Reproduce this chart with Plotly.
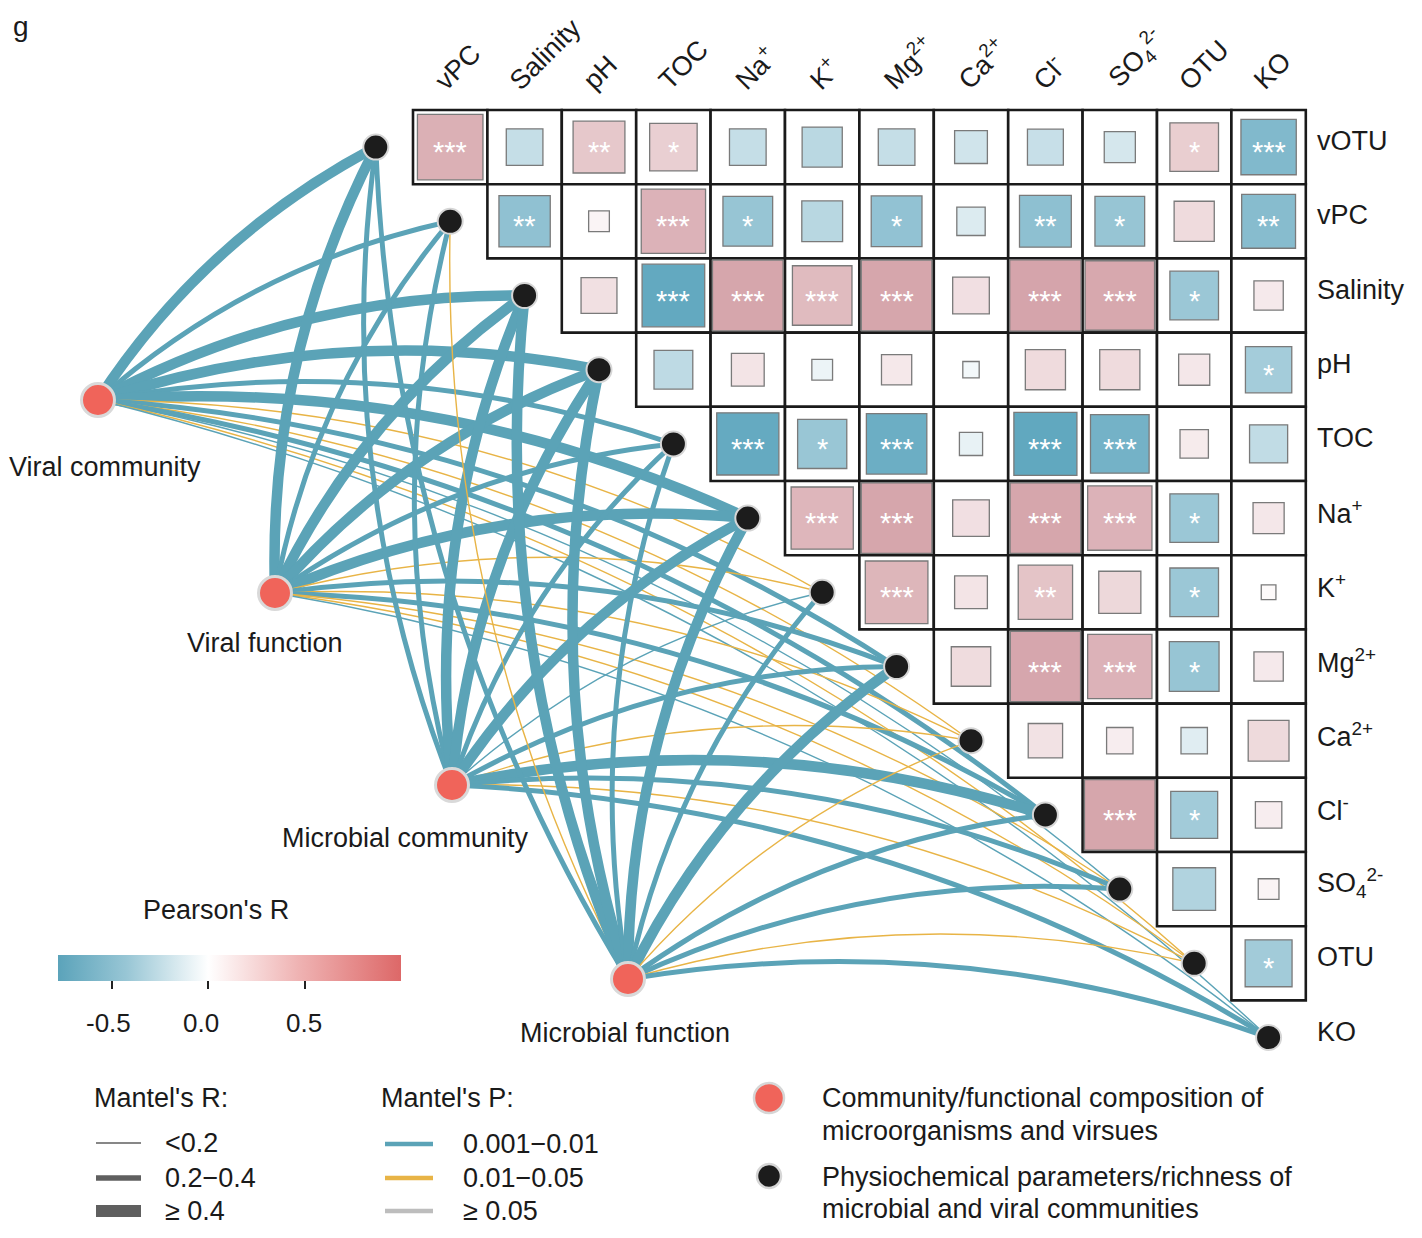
import numpy as np
import plotly.graph_objects as go

# ------------------------------------------------------------------ data
variables = ["vOTU", "vPC", "Salinity", "pH", "TOC", "Na+", "K+", "Mg2+",
             "Ca2+", "Cl-", "SO42-", "OTU", "KO"]
var_labels = ["vOTU", "vPC", "Salinity", "pH", "TOC", "Na<sup>+</sup>", "K<sup>+</sup>",
              "Mg<sup>2+</sup>", "Ca<sup>2+</sup>", "Cl<sup>-</sup>",
              "SO<sub>4</sub><sup>2-</sup>", "OTU", "KO"]

# Pearson's r, upper triangle: row i (variables[i]) against variables[i+1:]
pearson_r = [
    [0.80, -0.25, 0.50, 0.42, -0.25, -0.30, -0.25, -0.20, -0.24, -0.18, 0.44, -0.57],
    [-0.49, 0.08, 0.77, -0.46, -0.31, -0.48, -0.15, -0.50, -0.46, 0.30, -0.54],
    [0.24, -0.73, 0.93, 0.66, 0.93, 0.25, 0.95, 0.90, -0.44, 0.16],
    [-0.28, 0.20, -0.08, 0.17, -0.05, 0.30, 0.30, 0.18, -0.40],
    [-0.72, -0.45, -0.68, -0.10, -0.74, -0.64, 0.15, -0.27],
    [0.72, 0.93, 0.25, 0.93, 0.77, -0.44, 0.18],
    [0.73, 0.20, 0.55, 0.33, -0.44, 0.04],
    [0.29, 0.92, 0.77, -0.46, 0.16],
    [0.22, 0.13, -0.13, 0.31],
    [0.93, -0.41, 0.13],
    [-0.34, 0.08],
    [-0.41],
]
pearson_sig = [
    ["***", "", "**", "*", "", "", "", "", "", "", "*", "***"],
    ["**", "", "***", "*", "", "*", "", "**", "*", "", "**"],
    ["", "***", "***", "***", "***", "", "***", "***", "*", ""],
    ["", "", "", "", "", "", "", "", "*"],
    ["***", "*", "***", "", "***", "***", "", ""],
    ["***", "***", "", "***", "***", "*", ""],
    ["***", "", "**", "", "*", ""],
    ["", "***", "***", "*", ""],
    ["", "", "", ""],
    ["***", "*", ""],
    ["", ""],
    ["*"],
]

# Mantel tests: each composition matrix against every variable (order of `variables`)
mantel_sources = ["Viral community", "Viral function", "Microbial community", "Microbial function"]
mantel_r_viral_community = [0.52, 0.31, 0.47, 0.45, 0.33, 0.42, 0.12, 0.29, 0.11, 0.27, 0.16, 0.13, 0.17]
mantel_p_viral_community = [0.001, 0.002, 0.001, 0.001, 0.003, 0.001, 0.03, 0.004, 0.04, 0.005, 0.008, 0.02, 0.009]
mantel_r_viral_function = [0.46, 0.26, 0.44, 0.43, 0.30, 0.41, 0.13, 0.27, 0.10, 0.28, 0.14, 0.11, 0.18]
mantel_p_viral_function = [0.001, 0.004, 0.001, 0.001, 0.003, 0.001, 0.02, 0.005, 0.04, 0.004, 0.03, 0.03, 0.008]
mantel_r_microbial_community = [0.33, 0.28, 0.48, 0.44, 0.31, 0.46, 0.17, 0.32, 0.12, 0.47, 0.29, 0.13, 0.27]
mantel_p_microbial_community = [0.002, 0.003, 0.001, 0.001, 0.002, 0.001, 0.009, 0.002, 0.03, 0.001, 0.004, 0.02, 0.005]
mantel_r_microbial_function = [0.32, 0.12, 0.45, 0.43, 0.29, 0.44, 0.26, 0.41, 0.11, 0.30, 0.28, 0.12, 0.30]
mantel_p_microbial_function = [0.003, 0.04, 0.001, 0.001, 0.004, 0.001, 0.006, 0.001, 0.02, 0.003, 0.004, 0.03, 0.004]

mantel_r_all = [mantel_r_viral_community, mantel_r_viral_function,
                mantel_r_microbial_community, mantel_r_microbial_function]
mantel_p_all = [mantel_p_viral_community, mantel_p_viral_function,
                mantel_p_microbial_community, mantel_p_microbial_function]

# ------------------------------------------------------------------ layout / style
PAGE_W, PAGE_H = 1422, 1238
OFF = 8                       # page body margin
W, H = PAGE_W - 2 * OFF, PAGE_H - 2 * OFF
GX0, GY0 = 413.0, 110.0       # page-pixel position of grid top-left corner
CW, CH = 74.4, 74.2           # pixel size of one cell


def dx_(px):
    return (px - GX0) / CW - 0.5


def dy_(py):
    return (py - GY0) / CH - 0.5


def pxp(px):
    return (px - OFF) / W


def pyp(py):
    return 1 - (py - OFF) / H


FONT = "Liberation Sans, Arial, sans-serif"
TXT = "#1a1a1a"
TEAL = "#5BA3B7"
ORANGE = "#E8B446"
GREY = "#BDBDBD"
CURV = 0.13

# composition node placement (page pixels)
source_px = [(98, 400), (275, 593), (452, 785), (628, 979)]
source_label_px = [(105, 467), (265, 643), (405, 838), (625, 1033)]

cell_colorscale = [
    [0.0, "#56A2BB"], [0.1667, "#8EC0D1"], [0.3333, "#D0E4EB"], [0.4444, "#FFFFFF"],
    [0.5556, "#F3E4E6"], [0.7222, "#E6C8CB"], [1.0, "#D3A0A7"],
]
bar_colorscale = [[0.0, "#5BA3BA"], [0.2, "#98C6D5"], [0.438, "#FFFFFF"],
                  [0.7, "#EFB3B3"], [1.0, "#DD6868"]]

shapes = []
annotations = []

# grid cells
for i, row in enumerate(pearson_r):
    for k, _ in enumerate(row):
        j = i + k
        shapes.append(dict(type="rect", xref="x", yref="y", x0=j - 0.5, x1=j + 0.5,
                           y0=i - 0.5, y1=i + 0.5, line=dict(color="#1a1a1a", width=2.6),
                           fillcolor="white", layer="below"))


def edge_width(r):
    return 1.4 if r < 0.2 else (5.0 if r < 0.4 else 10.5)


def edge_color(p):
    return TEAL if p < 0.01 else (ORANGE if p < 0.05 else GREY)


# mantel edges (quadratic curves)
for s, (spx, spy) in enumerate(source_px):
    sx, sy = dx_(spx), dy_(spy)
    for t in range(len(variables)):
        tx, ty = t - 1, t
        ddx, ddy = tx - sx, ty - sy
        cx = (sx + tx) / 2 + CURV * ddy
        cy = (sy + ty) / 2 - CURV * ddx
        shapes.append(dict(type="path", xref="x", yref="y",
                           path=f"M {sx:.4f},{sy:.4f} Q {cx:.4f},{cy:.4f} {tx:.4f},{ty:.4f}",
                           line=dict(color=edge_color(mantel_p_all[s][t]),
                                     width=edge_width(mantel_r_all[s][t])),
                           layer="below"))

fig = go.Figure()

# correlation squares
cx_l, cy_l, cr_l, csz = [], [], [], []
for i, row in enumerate(pearson_r):
    for k, r in enumerate(row):
        cx_l.append(i + k)
        cy_l.append(i)
        cr_l.append(r)
        csz.append(CW * 0.985 * np.sqrt(abs(r)))
        star = pearson_sig[i][k]
        if star:
            annotations.append(dict(x=i + k, y=i, xref="x", yref="y", text=star,
                                    showarrow=False, xanchor="center", yanchor="middle",
                                    yshift=-5, font=dict(color="white", size=29, family=FONT)))
fig.add_trace(go.Scatter(
    x=cx_l, y=cy_l, mode="markers",
    marker=dict(symbol="square", size=csz, color=cr_l, colorscale=cell_colorscale,
                cmin=-0.8, cmax=1.0, opacity=1, line=dict(color="#7a7a7a", width=1.3),
                showscale=False),
    hoverinfo="skip", showlegend=False))

# variable nodes on the diagonal
fig.add_trace(go.Scatter(
    x=[t - 1 for t in range(len(variables))], y=list(range(len(variables))), mode="markers",
    marker=dict(size=25, color="#1c1c1c", opacity=1, line=dict(color="#d6d6d6", width=2)),
    hoverinfo="skip", showlegend=False))

# composition nodes
fig.add_trace(go.Scatter(
    x=[dx_(p[0]) for p in source_px], y=[dy_(p[1]) for p in source_px], mode="markers",
    marker=dict(size=33, color="#F0645A", opacity=1, line=dict(color="#d9d9d9", width=3)),
    hoverinfo="skip", showlegend=False))

# colour bar carrier
fig.add_trace(go.Scatter(
    x=[dx_(source_px[0][0])], y=[dy_(source_px[0][1])], mode="markers",
    marker=dict(size=0.1, color=[0], colorscale=bar_colorscale, cmin=-0.78, cmax=1.0,
                showscale=True,
                colorbar=dict(orientation="h", x=pxp(58), xanchor="left",
                              len=(401 - 58) / W, lenmode="fraction", thickness=26,
                              y=pyp(955), yanchor="top", outlinewidth=0, xpad=0, ypad=0,
                              tickvals=[-0.5, 0, 0.5], showticklabels=False,
                              ticks="outside", ticklen=8, tickwidth=2, tickcolor="#222")),
    hoverinfo="skip", showlegend=False))

# column headers
for j, lab in enumerate(var_labels[1:]):
    annotations.append(dict(x=j - 0.32, y=-0.66, xref="x", yref="y", text=lab, showarrow=False,
                            textangle=-45, xanchor="left", yanchor="bottom",
                            font=dict(size=27, family=FONT, color=TXT)))
# row labels
for i, lab in enumerate(var_labels):
    annotations.append(dict(x=11.62, y=i - 0.08, xref="x", yref="y", text=lab, showarrow=False,
                            xanchor="left", yanchor="middle",
                            font=dict(size=27, family=FONT, color=TXT)))
# composition labels
for name, (lx, ly) in zip(mantel_sources, source_label_px):
    annotations.append(dict(x=pxp(lx), y=pyp(ly), xref="paper", yref="paper", text=name,
                            showarrow=False, xanchor="center", yanchor="middle",
                            font=dict(size=27, family=FONT, color=TXT)))


def ptext(x, y, text, size=27, anchor="left"):
    annotations.append(dict(x=pxp(x), y=pyp(y), xref="paper", yref="paper", text=text,
                            showarrow=False, xanchor=anchor, yanchor="middle",
                            font=dict(size=size, family=FONT, color=TXT)))


ptext(21, 27, "g", size=28, anchor="center")
ptext(216, 910, "Pearson's R", anchor="center")
for v, xpix in zip(["-0.5", "0.0", "0.5"], [108, 201, 304]):
    ptext(xpix, 1023, v, size=26, anchor="center")

# Mantel's R legend
ptext(92, 1098, "Mantel's R:")
for yy, w, lab in [(1143, 1.5, "<0.2"), (1178, 5.5, "0.2\u22120.4"), (1211, 12, "\u2265 0.4")]:
    shapes.append(dict(type="line", xref="paper", yref="paper", x0=pxp(96), x1=pxp(141),
                       y0=pyp(yy), y1=pyp(yy), line=dict(color="#5f5f5f", width=w)))
    ptext(163, yy, lab)
# Mantel's P legend
ptext(379, 1098, "Mantel's P:")
for yy, col, lab in [(1144, TEAL, "0.001\u22120.01"), (1178, ORANGE, "0.01\u22120.05"),
                     (1211, GREY, "\u2265 0.05")]:
    shapes.append(dict(type="line", xref="paper", yref="paper", x0=pxp(385), x1=pxp(433),
                       y0=pyp(yy), y1=pyp(yy), line=dict(color=col, width=4.5)))
    ptext(461, yy, lab)

# node legend
for (cxp, cyp, r, col) in [(769, 1098, 15, "#F0645A"), (769, 1176, 12, "#1c1c1c")]:
    shapes.append(dict(type="circle", xref="paper", yref="paper", xsizemode="pixel",
                       ysizemode="pixel", xanchor=pxp(cxp), yanchor=pyp(cyp),
                       x0=-r, x1=r, y0=-r, y1=r, fillcolor=col,
                       line=dict(color="#d6d6d6", width=2.5)))
ptext(820, 1098, "Community/functional composition of")
ptext(820, 1131, "microorganisms and virsues")
ptext(820, 1177, "Physiochemical parameters/richness of")
ptext(820, 1209, "microbial and viral communities")

fig.update_layout(
    width=W, height=H, margin=dict(l=0, r=0, t=0, b=0),
    paper_bgcolor="white", plot_bgcolor="white",
    xaxis=dict(range=[dx_(OFF), dx_(OFF + W)], visible=False, fixedrange=True),
    yaxis=dict(range=[dy_(OFF + H), dy_(OFF)], visible=False, fixedrange=True),
    shapes=shapes, annotations=annotations, showlegend=False,
    font=dict(family=FONT, color=TXT),
)

fig.write_html("out.html")
